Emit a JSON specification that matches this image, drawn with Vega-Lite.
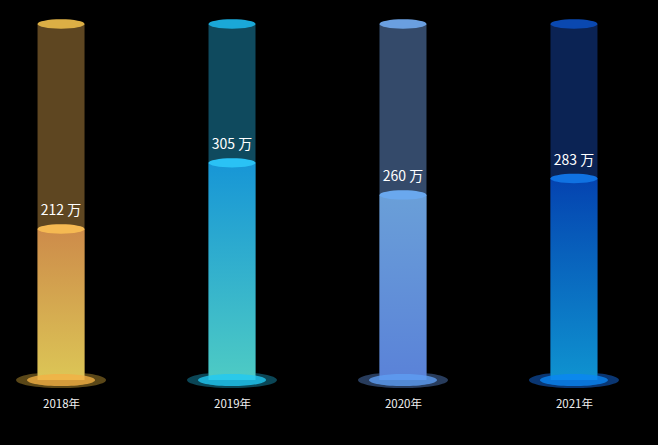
{
  "$schema": "https://vega.github.io/schema/vega-lite/v6.json",
  "width": 635,
  "height": 356,
  "autosize": {"type": "none"},
  "padding": {"left": 0, "top": 24, "right": 23, "bottom": 65},
  "background": "#000000",
  "config": {"view": {"stroke": null}, "font": "Noto Sans CJK SC"},
  "data": {
    "values": [
      {"year": "2018年", "value": 212, "max": 500, "label": "212 万"},
      {"year": "2019年", "value": 305, "max": 500, "label": "305 万"},
      {"year": "2020年", "value": 260, "max": 500, "label": "260 万"},
      {"year": "2021年", "value": 283, "max": 500, "label": "283 万"}
    ]
  },
  "encoding": {
    "x": {
      "field": "year",
      "type": "nominal",
      "sort": null,
      "scale": {"type": "point", "padding": 0.357, "domain": ["2018年", "2019年", "2020年", "2021年"]},
      "axis": {"title": null, "domain": false, "ticks": false, "labelAngle": 0, "labelColor": "#f0f0f0", "labelFontSize": 11.5, "labelPadding": 18, "grid": false}
    }
  },
  "layer": [
    {
      "mark": {"type": "point", "filled": true, "opacity": 1, "shape": "M-1,0A1,0.18 0 1,0 1,0A1,0.18 0 1,0 -1,0Z", "size": 8100},
      "encoding": {
        "y": {"datum": 0, "type": "quantitative", "scale": {"domain": [0, 500]}, "axis": null},
        "color": {"field": "year", "type": "nominal", "legend": null, "scale": {"domain": ["2018年", "2019年", "2020年", "2021年"], "range": ["#5a4718", "#0b4656", "#283c5c", "#0a3672"]}}
      }
    },
    {
      "mark": {"type": "bar", "size": 47},
      "encoding": {
        "y": {"field": "max", "type": "quantitative"},
        "y2": {"datum": 0},
        "color": {"field": "year", "type": "nominal", "legend": null, "scale": {"domain": ["2018年", "2019年", "2020年", "2021年"], "range": ["#5e4621", "#0f4a5e", "#344a6a", "#0b2354"]}}
      }
    },
    {
      "mark": {"type": "point", "filled": true, "opacity": 1, "shape": "M-1,0A1,0.2 0 1,0 1,0A1,0.2 0 1,0 -1,0Z", "size": 2209},
      "encoding": {
        "y": {"field": "max", "type": "quantitative"},
        "color": {"field": "year", "type": "nominal", "legend": null, "scale": {"domain": ["2018年", "2019年", "2020年", "2021年"], "range": ["#dcaf45", "#1aa8d8", "#6a9fe0", "#0a48b0"]}}
      }
    },
    {
      "transform": [{"filter": "datum.year === '2018年'"}],
      "mark": {"type": "bar", "size": 47, "color": {"gradient": "linear", "x1": 0, "y1": 0, "x2": 0, "y2": 1, "stops": [{"offset": 0, "color": "#cd8b4a"}, {"offset": 1, "color": "#dcc656"}]}},
      "encoding": {"y": {"field": "value", "type": "quantitative"}, "y2": {"datum": 0}}
    },
    {
      "transform": [{"filter": "datum.year === '2019年'"}],
      "mark": {"type": "bar", "size": 47, "color": {"gradient": "linear", "x1": 0, "y1": 0, "x2": 0, "y2": 1, "stops": [{"offset": 0, "color": "#1796d6"}, {"offset": 1, "color": "#4ecbc4"}]}},
      "encoding": {"y": {"field": "value", "type": "quantitative"}, "y2": {"datum": 0}}
    },
    {
      "transform": [{"filter": "datum.year === '2020年'"}],
      "mark": {"type": "bar", "size": 47, "color": {"gradient": "linear", "x1": 0, "y1": 0, "x2": 0, "y2": 1, "stops": [{"offset": 0, "color": "#6a9fd8"}, {"offset": 1, "color": "#5a82d8"}]}},
      "encoding": {"y": {"field": "value", "type": "quantitative"}, "y2": {"datum": 0}}
    },
    {
      "transform": [{"filter": "datum.year === '2021年'"}],
      "mark": {"type": "bar", "size": 47, "color": {"gradient": "linear", "x1": 0, "y1": 0, "x2": 0, "y2": 1, "stops": [{"offset": 0, "color": "#0443b0"}, {"offset": 1, "color": "#0f93d0"}]}},
      "encoding": {"y": {"field": "value", "type": "quantitative"}, "y2": {"datum": 0}}
    },
    {
      "mark": {"type": "point", "filled": true, "opacity": 0.8, "shape": "M-1,0A1,0.18 0 1,0 1,0A1,0.18 0 1,0 -1,0Z", "size": 4624},
      "encoding": {
        "y": {"datum": 0, "type": "quantitative"},
        "color": {"field": "year", "type": "nominal", "legend": null, "scale": {"domain": ["2018年", "2019年", "2020年", "2021年"], "range": ["#f2b045", "#22c8f2", "#5e9ef2", "#0a86f2"]}}
      }
    },
    {
      "mark": {"type": "point", "filled": true, "opacity": 1, "shape": "M-1,0A1,0.2 0 1,0 1,0A1,0.2 0 1,0 -1,0Z", "size": 2209},
      "encoding": {
        "y": {"field": "value", "type": "quantitative"},
        "color": {"field": "year", "type": "nominal", "legend": null, "scale": {"domain": ["2018年", "2019年", "2020年", "2021年"], "range": ["#f5b952", "#2ac2f5", "#6aa8ee", "#1072e2"]}}
      }
    },
    {
      "mark": {"type": "text", "dy": -18, "fontSize": 14, "color": "#ffffff", "font": "Noto Sans CJK SC"},
      "encoding": {
        "y": {"field": "value", "type": "quantitative"},
        "text": {"field": "label", "type": "nominal"}
      }
    }
  ],
  "resolve": {"scale": {"color": "independent"}}
}
